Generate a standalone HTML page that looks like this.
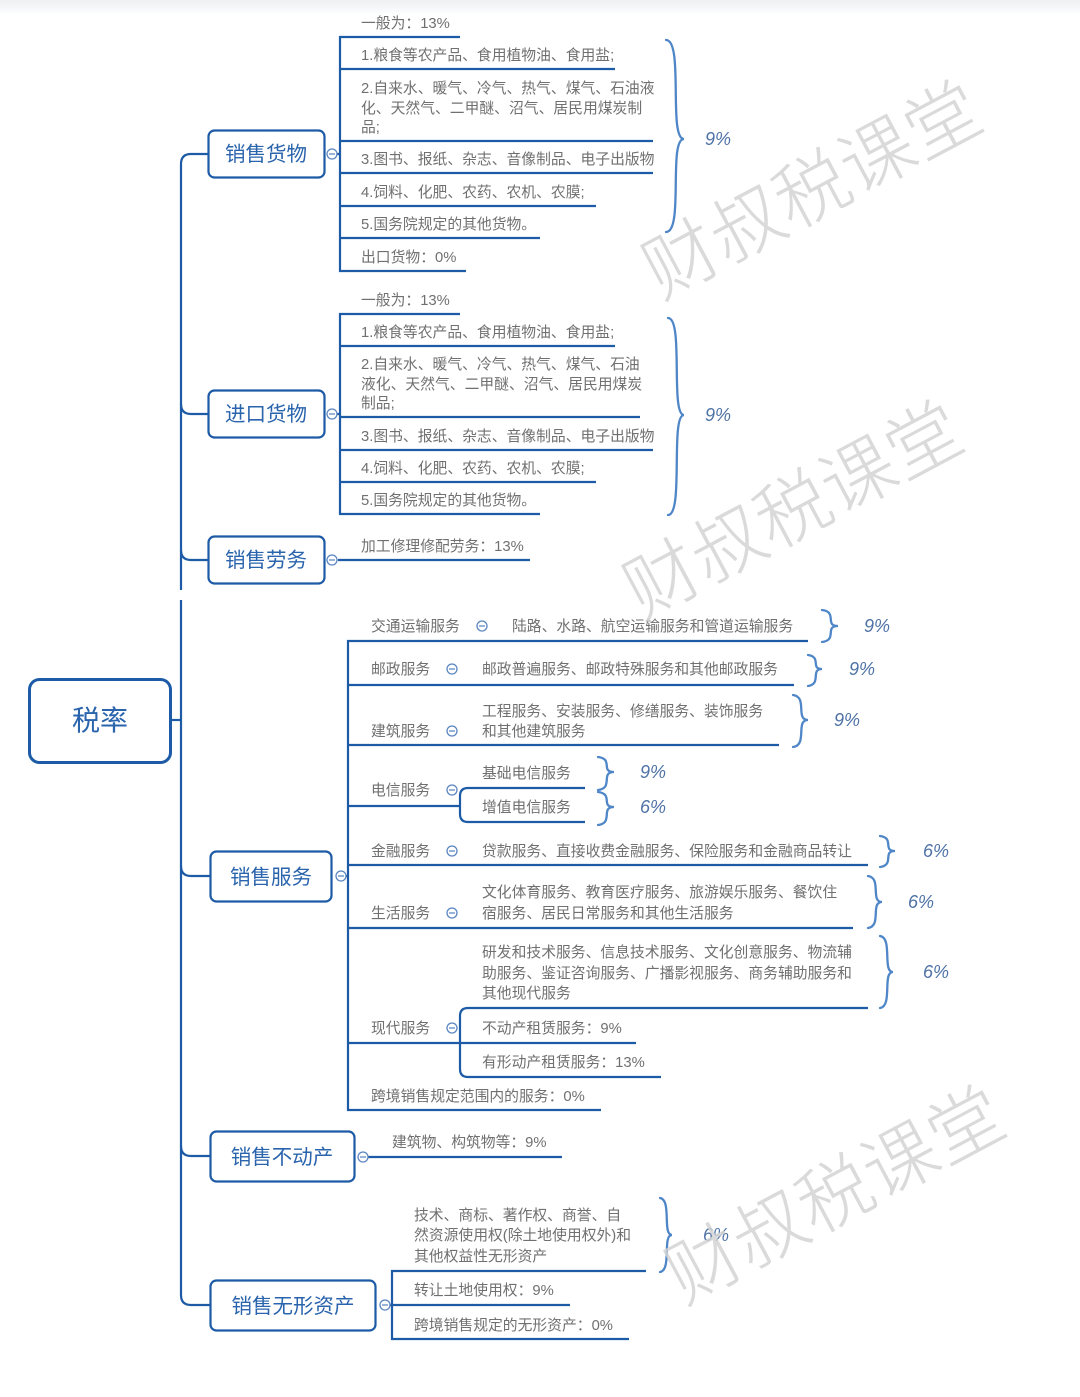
<!DOCTYPE html>
<html><head><meta charset="utf-8">
<style>
html,body{margin:0;padding:0;background:#fff;}
svg{display:block;}
.t{font-family:"Liberation Sans","Noto Sans CJK SC",sans-serif;font-size:14.8px;fill:#707070;}
.n{font-family:"Liberation Sans","Noto Sans CJK SC",sans-serif;font-size:20.5px;fill:#2a64ad;}
.p{font-family:"Liberation Sans",sans-serif;font-size:18px;font-style:italic;fill:#4e72a6;}
.w{font-family:"Noto Sans CJK SC",sans-serif;font-size:74px;fill:#d4d4d4;fill-opacity:.85;font-weight:300;}
</style></head><body>
<svg width="1080" height="1397" viewBox="0 0 1080 1397" xmlns="http://www.w3.org/2000/svg">
<defs><linearGradient id="g" x1="0" y1="0" x2="0" y2="1"><stop offset="0" stop-color="#eef0f3"/><stop offset="1" stop-color="#fff"/></linearGradient></defs>
<rect x="0" y="0" width="1080" height="16" fill="url(#g)"/>

<g fill="none" stroke="#1e5ba6" stroke-width="2.2">
<path d="M208,154 H191 Q181,154 181,164 V590"/>
<path d="M181,600 V1295 Q181,1305 191,1305 H210"/>
<path d="M181,404 Q181,414 191,414 H208"/>
<path d="M181,550 Q181,560 191,560 H208"/>
<path d="M181,866 Q181,876 191,876 H210"/>
<path d="M181,1146 Q181,1156 191,1156 H210"/>
<path d="M171,720 H181"/>

<path d="M330,154 H340"/>
<path d="M460,37 H340 V271 H466"/>
<path d="M340,69 H615 M340,141 H653 M340,173 H653 M340,206 H596 M340,238 H540"/>
<path d="M330,414 H340"/>
<path d="M460,314 H340 V514 H540"/>
<path d="M340,346 H615 M340,417 H640 M340,450 H653 M340,482 H596"/>
<path d="M338,560 H530"/>
<path d="M346,876 H348"/>
<path d="M808,641 H348 V1110 H601"/>
<path d="M348,685 H794 M348,745 H779 M348,806 H460 M348,865 H868 M348,928 H853 M348,1043 H636"/>
<path d="M585,788 H468 Q460,788 460,796 V814 Q460,822 468,822 H585"/>
<path d="M868,1008 H468 Q460,1008 460,1016 V1069 Q460,1077 468,1077 H661"/>
<path d="M368,1157 H562"/>
<path d="M390,1305 H392"/>
<path d="M646,1271 H392 V1339 H629 M392,1305 H570"/>
</g>

<g fill="#fff" stroke="#1e5ba6">
<rect x="29.5" y="679.5" width="141" height="83" rx="10" stroke-width="3"/>
<rect x="208.5" y="130.5" width="116" height="47" rx="6" stroke-width="2.2"/>
<rect x="208.5" y="390.5" width="116" height="47" rx="6" stroke-width="2.2"/>
<rect x="208.5" y="536.5" width="116" height="47" rx="6" stroke-width="2.2"/>
<rect x="210.5" y="851.5" width="121" height="50" rx="6" stroke-width="2.2"/>
<rect x="210.5" y="1131.5" width="144" height="50" rx="6" stroke-width="2.2"/>
<rect x="210.5" y="1280.5" width="165" height="50" rx="6" stroke-width="2.2"/>
</g>
<g fill="#fff" stroke="#5b86c0" stroke-width="1.3">
<circle cx="332" cy="154" r="5"/><circle cx="332" cy="414" r="5"/><circle cx="332" cy="560" r="5"/>
<circle cx="341" cy="876" r="5"/><circle cx="363" cy="1157" r="5"/><circle cx="385" cy="1305" r="5"/>
<circle cx="482" cy="626" r="5"/><circle cx="452" cy="669" r="5"/><circle cx="452" cy="731" r="5"/>
<circle cx="452" cy="790" r="5"/><circle cx="452" cy="851" r="5"/><circle cx="452" cy="913" r="5"/><circle cx="452" cy="1028" r="5"/>
</g>
<g stroke="#5b86c0" stroke-width="1.3">
<path d="M329,154h6M329,414h6M329,560h6M338,876h6M360,1157h6M382,1305h6M479,626h6M449,669h6M449,731h6M449,790h6M449,851h6M449,913h6M449,1028h6"/>
</g>

<text class="n" x="100" y="730" text-anchor="middle" style="font-size:28px">税率</text>
<text class="n" x="266" y="161" text-anchor="middle">销售货物</text>
<text class="n" x="266" y="421" text-anchor="middle">进口货物</text>
<text class="n" x="266" y="567" text-anchor="middle">销售劳务</text>
<text class="n" x="271" y="884" text-anchor="middle">销售服务</text>
<text class="n" x="282" y="1164" text-anchor="middle">销售不动产</text>
<text class="n" x="293" y="1313" text-anchor="middle">销售无形资产</text>

<g class="t">
<text x="361" y="28">一般为：13%</text>
<text x="361" y="60">1.粮食等农产品、食用植物油、食用盐;</text>
<text x="361" y="93">2.自来水、暖气、冷气、热气、煤气、石油液</text>
<text x="361" y="113">化、天然气、二甲醚、沼气、居民用煤炭制</text>
<text x="361" y="132">品;</text>
<text x="361" y="164">3.图书、报纸、杂志、音像制品、电子出版物</text>
<text x="361" y="197">4.饲料、化肥、农药、农机、农膜;</text>
<text x="361" y="229">5.国务院规定的其他货物。</text>
<text x="361" y="262">出口货物：0%</text>

<text x="361" y="305">一般为：13%</text>
<text x="361" y="337">1.粮食等农产品、食用植物油、食用盐;</text>
<text x="361" y="369">2.自来水、暖气、冷气、热气、煤气、石油</text>
<text x="361" y="389">液化、天然气、二甲醚、沼气、居民用煤炭</text>
<text x="361" y="408">制品;</text>
<text x="361" y="441">3.图书、报纸、杂志、音像制品、电子出版物</text>
<text x="361" y="473">4.饲料、化肥、农药、农机、农膜;</text>
<text x="361" y="505">5.国务院规定的其他货物。</text>

<text x="361" y="551">加工修理修配劳务：13%</text>

<text x="371" y="631">交通运输服务</text><text x="512" y="631">陆路、水路、航空运输服务和管道运输服务</text>
<text x="371" y="674">邮政服务</text><text x="482" y="674">邮政普遍服务、邮政特殊服务和其他邮政服务</text>
<text x="482" y="716">工程服务、安装服务、修缮服务、装饰服务</text>
<text x="371" y="736">建筑服务</text><text x="482" y="736">和其他建筑服务</text>
<text x="482" y="778">基础电信服务</text>
<text x="371" y="795">电信服务</text>
<text x="482" y="812">增值电信服务</text>
<text x="371" y="856">金融服务</text><text x="482" y="856">贷款服务、直接收费金融服务、保险服务和金融商品转让</text>
<text x="482" y="897">文化体育服务、教育医疗服务、旅游娱乐服务、餐饮住</text>
<text x="371" y="918">生活服务</text><text x="482" y="918">宿服务、居民日常服务和其他生活服务</text>
<text x="482" y="957">研发和技术服务、信息技术服务、文化创意服务、物流辅</text>
<text x="482" y="978">助服务、鉴证咨询服务、广播影视服务、商务辅助服务和</text>
<text x="482" y="998">其他现代服务</text>
<text x="371" y="1033">现代服务</text><text x="482" y="1033">不动产租赁服务：9%</text>
<text x="482" y="1067">有形动产租赁服务：13%</text>
<text x="371" y="1101">跨境销售规定范围内的服务：0%</text>

<text x="392" y="1147">建筑物、构筑物等：9%</text>
<text x="414" y="1220">技术、商标、著作权、商誉、自</text>
<text x="414" y="1240">然资源使用权(除土地使用权外)和</text>
<text x="414" y="1261">其他权益性无形资产</text>
<text x="414" y="1295">转让土地使用权：9%</text>
<text x="414" y="1330">跨境销售规定的无形资产：0%</text>
</g>

<g fill="none" stroke="#4f86c8" stroke-width="2.3" stroke-linecap="round">
<path d="M666,40 C684,40 668,139 684,139 C668,139 684,232 666,232"/>
<path d="M668,318 C684,318 670,415 684,415 C670,415 684,515 668,515"/>
<path d="M822,610 C838,612 824,626 838,626 C824,626 838,640 822,642"/>
<path d="M808,655 C822,657 810,669 822,669 C810,669 822,684 808,686"/>
<path d="M793,695 C808,697 795,720 808,720 C795,720 808,745 793,747"/>
<path d="M598,757 C614,759 600,772 614,772 C600,772 614,788 598,790"/>
<path d="M598,792 C614,794 600,807 614,807 C600,807 614,823 598,825"/>
<path d="M880,836 C895,838 882,851 895,851 C882,851 895,865 880,867"/>
<path d="M868,876 C882,878 870,902 882,902 C870,902 882,926 868,928"/>
<path d="M880,936 C893,938 882,972 893,972 C882,972 893,1006 880,1008"/>
<path d="M660,1198 C672,1200 662,1235 672,1235 C662,1235 672,1270 660,1272"/>
</g>
<g class="p">
<text x="705" y="145">9%</text>
<text x="705" y="421">9%</text>
<text x="864" y="632">9%</text>
<text x="849" y="675">9%</text>
<text x="834" y="726">9%</text>
<text x="640" y="778">9%</text>
<text x="640" y="813">6%</text>
<text x="923" y="857">6%</text>
<text x="908" y="908">6%</text>
<text x="923" y="978">6%</text>
<text x="703" y="1241">6%</text>
</g>

<text class="w" x="812" y="216" text-anchor="middle" transform="rotate(-28 812 190)">财叔税课堂</text>
<text class="w" x="793" y="536" text-anchor="middle" transform="rotate(-28 793 510)">财叔税课堂</text>
<text class="w" x="835" y="1221" text-anchor="middle" transform="rotate(-28 835 1195)">财叔税课堂</text>
</svg>
</body></html>
